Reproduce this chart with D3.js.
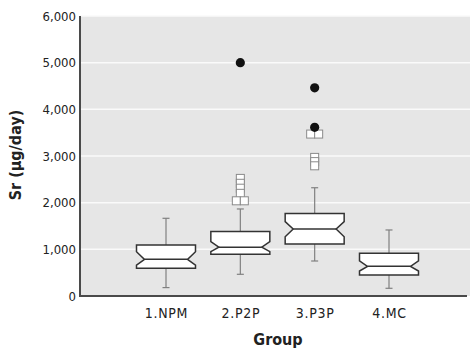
<!DOCTYPE html>
<html><head><meta charset="utf-8">
<script src="https://cdn.jsdelivr.net/npm/d3@7"></script>
<style>
html,body{margin:0;padding:0;background:#fff;}
svg{display:block;}
text{font-family:"DejaVu Sans Condensed","DejaVu Sans",sans-serif;font-stretch:condensed;}
</style></head>
<body><svg id="c" width="474" height="356"></svg>
<script>
// ---- data ----
const groups = ["1.NPM", "2.P2P", "3.P3P", "4.MC"];
const whiskerLow  = [180, 465, 750, 165];
const q1          = [595, 895, 1115, 450];
const notchLow    = [660, 950, 1270, 535];
const median      = [785, 1045, 1435, 635];
const notchHigh   = [950, 1165, 1595, 755];
const q3          = [1095, 1380, 1770, 915];
const whiskerHigh = [1665, 1865, 2320, 1415];
// outliers (hollow squares) and extreme values (filled dots)
const outlierGroup = ["2.P2P","2.P2P","2.P2P","2.P2P","2.P2P","2.P2P","3.P3P","3.P3P","3.P3P","3.P3P","3.P3P"];
const outlierValue = [2520, 2415, 2310, 2200, 2040, 2040, 3470, 3470, 2970, 2880, 2790];
const extremeGroup = ["2.P2P", "3.P3P", "3.P3P"];
const extremeValue = [5000, 4460, 3615];
const yTicks = [0, 1000, 2000, 3000, 4000, 5000, 6000];
const yTitle = "Sr (\u03bcg/day)";
const xTitle = "Group";

// ---- layout ----
const svg = d3.select("#c");
const pL = 80, pR = 470, pT = 16, pB = 296;
const y = d3.scaleLinear().domain([0, 6000]).range([pB, pT]);
const x = d3.scalePoint().domain(groups).range([pL + 86, pR - 81]);
const boxW = 59, notchD = 8, capW = 7, sq = 8;
const FONT = '"DejaVu Sans Condensed","DejaVu Sans",sans-serif';

// background
svg.append("rect").attr("x", pL).attr("y", pT).attr("width", pR - pL).attr("height", pB - pT).attr("fill", "#e6e6e6");
// gridlines
svg.append("g").selectAll("line").data(yTicks.filter(d => d > 0)).join("line")
  .attr("x1", pL).attr("x2", pR).attr("y1", d => y(d)).attr("y2", d => y(d))
  .attr("stroke", "#fafafa").attr("stroke-width", 1.5);

// y axis
const yAxis = svg.append("g").attr("transform", `translate(${pL},0)`)
  .call(d3.axisLeft(y).tickValues(yTicks).tickSize(0).tickPadding(4).tickFormat(d3.format(",")));
yAxis.select(".domain").remove();
yAxis.selectAll("text").attr("font-size", 13).attr("fill", "#222")
  .style("font-family", FONT).style("font-stretch", "condensed");

// x axis
const xAxis = svg.append("g").attr("transform", `translate(0,${pB})`)
  .call(d3.axisBottom(x).tickSize(0).tickPadding(12));
xAxis.select(".domain").remove();
xAxis.selectAll("text").attr("font-size", 14).attr("fill", "#222").style("letter-spacing", "0.7px")
  .style("font-family", FONT).style("font-stretch", "condensed");

// axis lines
svg.append("line").attr("x1", pL).attr("x2", pL).attr("y1", pT).attr("y2", pB + 1).attr("stroke", "#4a4a4a").attr("stroke-width", 2);
svg.append("line").attr("x1", pL - 1).attr("x2", pR - 3).attr("y1", pB).attr("y2", pB).attr("stroke", "#4a4a4a").attr("stroke-width", 2);

// boxes
const bx = groups.map((g, i) => ({g, i}));
const gBox = svg.append("g");
// whiskers
gBox.selectAll(".wh").data(bx).join("line")
  .attr("x1", d => x(d.g)).attr("x2", d => x(d.g))
  .attr("y1", d => y(whiskerLow[d.i])).attr("y2", d => y(whiskerHigh[d.i]))
  .attr("stroke", "#808080").attr("stroke-width", 1.2);
gBox.selectAll(".capH").data(bx).join("line")
  .attr("x1", d => x(d.g) - capW / 2).attr("x2", d => x(d.g) + capW / 2)
  .attr("y1", d => y(whiskerHigh[d.i])).attr("y2", d => y(whiskerHigh[d.i]))
  .attr("stroke", "#808080").attr("stroke-width", 1.2);
gBox.selectAll(".capL").data(bx).join("line")
  .attr("x1", d => x(d.g) - capW / 2).attr("x2", d => x(d.g) + capW / 2)
  .attr("y1", d => y(whiskerLow[d.i])).attr("y2", d => y(whiskerLow[d.i]))
  .attr("stroke", "#808080").attr("stroke-width", 1.2);
// notched boxes
gBox.selectAll(".box").data(bx).join("path")
  .attr("d", d => {
    const c = x(d.g), l = c - boxW / 2, r = c + boxW / 2;
    const p = d3.path();
    p.moveTo(l, y(q3[d.i]));
    p.lineTo(r, y(q3[d.i]));
    p.lineTo(r, y(notchHigh[d.i]));
    p.lineTo(r - notchD, y(median[d.i]));
    p.lineTo(r, y(notchLow[d.i]));
    p.lineTo(r, y(q1[d.i]));
    p.lineTo(l, y(q1[d.i]));
    p.lineTo(l, y(notchLow[d.i]));
    p.lineTo(l + notchD, y(median[d.i]));
    p.lineTo(l, y(notchHigh[d.i]));
    p.closePath();
    return p.toString();
  })
  .attr("fill", "#fff").attr("stroke", "#333").attr("stroke-width", 1.5).attr("stroke-linejoin", "miter");
gBox.selectAll(".med").data(bx).join("line")
  .attr("x1", d => x(d.g) - boxW / 2 + notchD).attr("x2", d => x(d.g) + boxW / 2 - notchD)
  .attr("y1", d => y(median[d.i])).attr("y2", d => y(median[d.i]))
  .attr("stroke", "#333").attr("stroke-width", 1.5);

// outliers: squares; tied values side by side
const outl = outlierValue.map((v, k) => ({g: outlierGroup[k], v}));
outl.forEach(d => {
  const ties = outl.filter(o => o.g === d.g && o.v === d.v);
  const idx = ties.indexOf(d);
  d.off = (idx - (ties.length - 1) / 2) * sq;
});
svg.append("g").selectAll("rect").data(outl).join("rect")
  .attr("x", d => x(d.g) + d.off - sq / 2).attr("y", d => y(d.v) - sq / 2)
  .attr("width", sq).attr("height", sq)
  .attr("fill", "#fff").attr("stroke", "#8a8a8a").attr("stroke-width", 1);
// extremes: dots
svg.append("g").selectAll("circle").data(extremeValue.map((v, k) => ({g: extremeGroup[k], v}))).join("circle")
  .attr("cx", d => x(d.g)).attr("cy", d => y(d.v)).attr("r", 4.6).attr("fill", "#111");

// titles
svg.append("text").attr("x", (pL + pR) / 2 + 3).attr("y", 345).attr("text-anchor", "middle")
  .attr("font-size", 16).attr("font-weight", "bold").attr("fill", "#222").text(xTitle);
svg.append("text").attr("transform", `translate(21,155) rotate(-90)`).attr("text-anchor", "middle")
  .attr("font-size", 16).attr("font-weight", "bold").attr("fill", "#222").text(yTitle);
</script></body></html>
